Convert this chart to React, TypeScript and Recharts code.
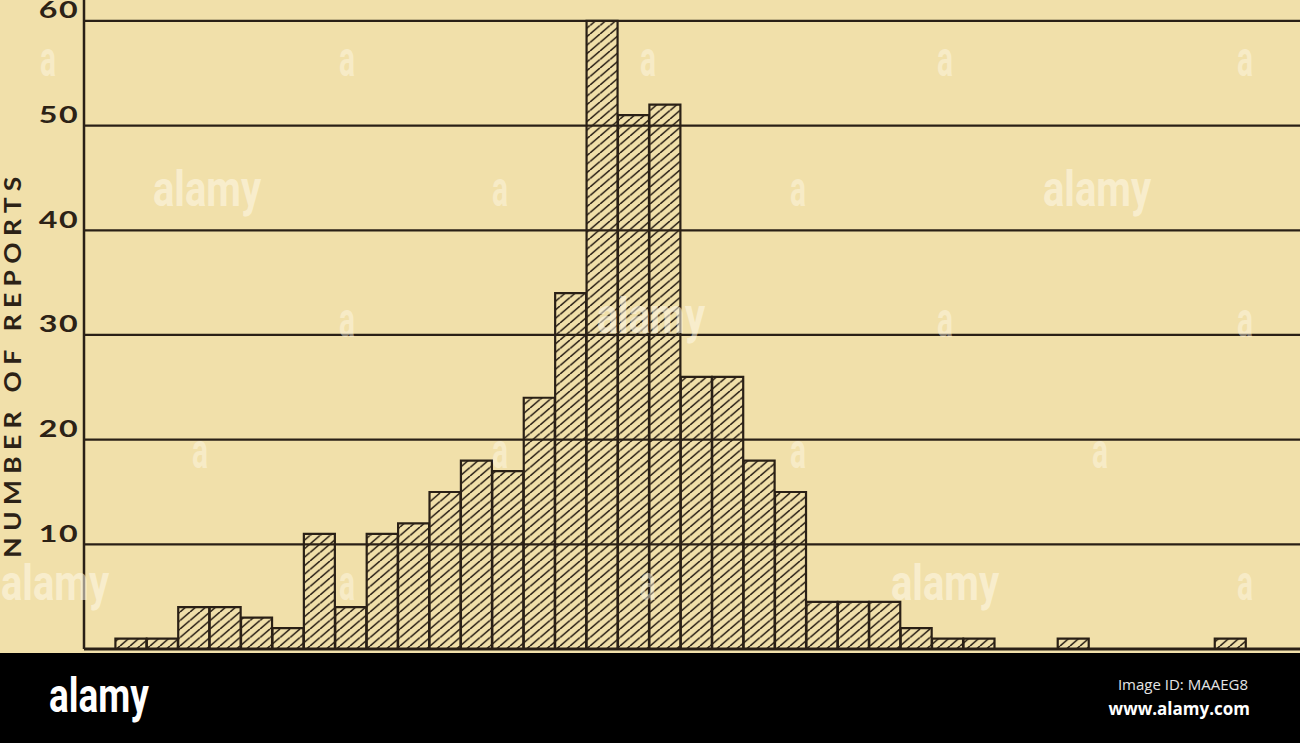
import { BarChart, Bar, XAxis, YAxis, CartesianGrid } from 'recharts';

// class intervals (no labels visible in the picture, only the order)
const bins = [
  '1', '2', '3', '4', '5', '6', '7', '8', '9', '10',
  '11', '12', '13', '14', '15', '16', '17', '18', '19', '20',
  '21', '22', '23', '24', '25', '26', '27', '28', '29', '30',
  '31', '32', '33', '34', '35', '36', '37', '38', '39',
];

// number of reports per interval
const reports = [
  0, 1, 1, 4, 4, 3, 2, 11, 4, 11,
  12, 15, 18, 17, 24, 34, 60, 51, 52, 26,
  26, 18, 15, 4.5, 4.5, 4.5, 2, 1, 1, 0,
  0, 1, 0, 0, 0, 0, 1, 0, 0,
];

const yTicks = [10, 20, 30, 40, 50, 60];

const data = bins.map((bin, i) => ({ bin, reports: reports[i] }));

const INK = '#2a2016';
const PAPER = '#f1e0aa';

// stock-photo watermarks over the scan
const bigMarks = [
  { x: 207, y: 164 },
  { x: 1097, y: 164 },
  { x: 651, y: 291 },
  { x: 55, y: 558 },
  { x: 945, y: 558 },
];
const smallMarks = [
  { x: 48, y: 34 }, { x: 347, y: 34 }, { x: 648, y: 34 }, { x: 945, y: 34 }, { x: 1245, y: 34 },
  { x: 500, y: 164 }, { x: 798, y: 164 },
  { x: 347, y: 295 }, { x: 945, y: 295 }, { x: 1245, y: 295 },
  { x: 200, y: 426 }, { x: 500, y: 426 }, { x: 798, y: 426 }, { x: 1100, y: 426 },
  { x: 347, y: 558 }, { x: 648, y: 558 }, { x: 1245, y: 558 },
];

const markStyle = {
  position: 'absolute' as const,
  color: 'rgba(255,250,235,0.55)',
  fontFamily: 'Roboto, sans-serif',
  fontWeight: 700,
  fontSize: 50,
  lineHeight: 1,
  whiteSpace: 'nowrap' as const,
};

function YTick(props: any) {
  const { y, payload } = props;
  return (
    <text
      transform={`translate(79, ${y - 2.5}) scale(1.4, 1)`}
      textAnchor="end"
      fill="#2c2216"
      fontSize={23}
      fontWeight={700}
      letterSpacing={1}
      fontFamily="Lato, sans-serif"
    >
      {payload.value}
    </text>
  );
}

function YLabel() {
  return (
    <text
      transform="translate(21, 364) rotate(-90) scale(1.15, 1)"
      textAnchor="middle"
      fill="#2c2216"
      fontSize={23}
      fontWeight={700}
      letterSpacing={5.5}
      fontFamily="Lato, sans-serif"
    >
      NUMBER OF REPORTS
    </text>
  );
}

export default function App() {
  return (
    <div
      style={{
        position: 'absolute',
        left: 0,
        top: 0,
        width: 1300,
        height: 743,
        overflow: 'hidden',
        background: PAPER,
      }}
    >
      <BarChart
        width={1309}
        height={653}
        data={data}
        margin={{ top: 0, right: 0, left: 0, bottom: 0 }}
        barCategoryGap={0}
      >
        <defs>
          <pattern id="hatch" patternUnits="userSpaceOnUse" width={10} height={8.5}>
            <path
              d="M-10,8.5 L0,0 M0,8.5 L10,0 M10,8.5 L20,0"
              stroke={INK}
              strokeWidth={1.6}
            />
          </pattern>
        </defs>
        <CartesianGrid vertical={false} horizontalValues={yTicks} stroke={INK} strokeWidth={2.2} />
        <XAxis
          dataKey="bin"
          tick={false}
          tickLine={false}
          height={4}
          axisLine={{ stroke: INK, strokeWidth: 3 }}
        />
        <YAxis
          type="number"
          domain={[0, 62]}
          ticks={yTicks}
          width={84}
          tickLine={false}
          axisLine={{ stroke: INK, strokeWidth: 2.5 }}
          tick={<YTick />}
          label={{ content: () => <YLabel /> }}
        />
        <Bar
          dataKey="reports"
          fill="url(#hatch)"
          stroke={INK}
          strokeWidth={2.2}
          isAnimationActive={false}
        />
      </BarChart>

      {bigMarks.map((m, i) => (
        <div
          key={'b' + i}
          style={{ ...markStyle, left: m.x, top: m.y, transform: 'translateX(-50%) scaleX(0.8)' }}
        >
          alamy
        </div>
      ))}
      {smallMarks.map((m, i) => (
        <div
          key={'s' + i}
          style={{
            ...markStyle,
            color: 'rgba(255,250,235,0.45)',
            left: m.x,
            top: m.y,
            transform: 'translateX(-50%) scaleX(0.6)',
          }}
        >
          a
        </div>
      ))}

      <div
        style={{
          position: 'absolute',
          left: 0,
          top: 653,
          width: 1300,
          height: 90,
          background: '#000',
          color: '#fff',
        }}
      >
        <div
          style={{
            position: 'absolute',
            left: 49,
            top: 19,
            fontFamily: 'Roboto, sans-serif',
            fontWeight: 700,
            fontSize: 48,
            lineHeight: 1,
            transform: 'scaleX(0.77)',
            transformOrigin: 'left top',
          }}
        >
          alamy
        </div>
        <div
          style={{
            position: 'absolute',
            right: 52,
            top: 24,
            fontFamily: '"Open Sans", sans-serif',
            fontSize: 15,
            lineHeight: 1,
            color: '#e4e4e4',
          }}
        >
          Image ID: MAAEG8
        </div>
        <div
          style={{
            position: 'absolute',
            right: 50,
            top: 47,
            fontFamily: '"Open Sans", sans-serif',
            fontSize: 17,
            fontWeight: 700,
            lineHeight: 1,
          }}
        >
          www.alamy.com
        </div>
      </div>
    </div>
  );
}
